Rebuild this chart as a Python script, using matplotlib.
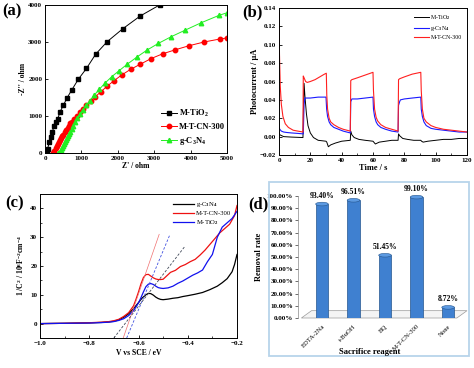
import numpy as np
import matplotlib
matplotlib.use('Agg')
import matplotlib.pyplot as plt
from matplotlib.patches import Rectangle, Polygon, Ellipse
from matplotlib.ticker import MultipleLocator, PercentFormatter

plt.rcParams['font.family'] = ['Liberation Serif', 'DejaVu Serif']
plt.rcParams['mathtext.fontset'] = 'custom'
plt.rcParams['mathtext.rm'] = 'Liberation Serif:bold'
plt.rcParams['mathtext.it'] = 'Liberation Serif:italic:bold'
plt.rcParams['mathtext.bf'] = 'Liberation Serif:bold'
plt.rcParams['xtick.direction'] = 'in'
plt.rcParams['ytick.direction'] = 'in'
plt.rcParams['axes.linewidth'] = 0.7

# ---- (a) Nyquist plot ----
tio2_zr = [0, 18, 46, 73, 119, 156, 202, 248, 300, 349, 413, 505, 606, 743, 917,
           1138, 1394, 1706, 2138, 2615, 3147, 3300]
tio2_zi = [0, 0, 54, 117, 298, 433, 569, 731, 830, 921, 1111, 1291, 1490, 1716, 1995,
           2284, 2673, 3007, 3359, 3702, 4000, 4080]
mtcn_zr = [230, 260, 290, 320, 350, 380, 410, 440, 470, 500, 540, 580, 620, 660, 700,
           740, 800, 870, 950, 1040, 1140, 1250, 1380, 1530, 1700, 1890, 2110, 2350,
           2620, 2910, 3230, 3580, 3960, 4370, 4800, 5000]
mtcn_zi = [0, 60, 130, 190, 250, 300, 350, 400, 450, 500, 560, 620, 680, 740, 800,
           850, 920, 1000, 1100, 1200, 1300, 1400, 1520, 1650, 1800, 1950, 2110, 2260,
           2400, 2550, 2680, 2790, 2900, 3000, 3080, 3110]
gcn_zr = [370, 400, 430, 460, 490, 520, 550, 580, 610, 640, 670, 700, 740, 780, 830,
          890, 960, 1040, 1130, 1230, 1350, 1490, 1650, 1830, 2030, 2260, 2520, 2800,
          3110, 3460, 3850, 4290, 4780, 5000]
gcn_zi = [0, 40, 90, 140, 190, 240, 290, 340, 400, 460, 520, 580, 660, 740, 830,
          940, 1060, 1170, 1290, 1410, 1560, 1720, 1890, 2060, 2220, 2400, 2590, 2780,
          2960, 3140, 3320, 3520, 3720, 3790]

# ---- (b) transient photocurrent ----
red_t = [0, 0.3, 0.8, 1.5, 2.5, 4, 6, 9, 12, 15.3, 15.5, 16, 17, 18, 20, 23, 26, 29,
         30.2, 30.5, 31, 32, 33, 35, 38, 41, 45.5, 45.8, 46.5, 50, 55, 60, 60.3, 61,
         62, 63, 65, 68, 72, 76, 76.3, 77, 80, 85, 90.5, 90.8, 91.5, 92.5, 94, 97, 100,
         105, 110, 115, 120]
red_i = [0.135, 0.09, 0.055, 0.035, 0.022, 0.014, 0.010, 0.007, 0.006, 0.005, 0.066,
         0.064, 0.060, 0.059, 0.060, 0.062, 0.065, 0.068, 0.069, 0.045, 0.030, 0.020,
         0.016, 0.013, 0.010, 0.008, 0.006, 0.061, 0.062, 0.064, 0.067, 0.070, 0.050,
         0.030, 0.021, 0.017, 0.013, 0.010, 0.008, 0.006, 0.062, 0.063, 0.065, 0.068,
         0.070, 0.050, 0.030, 0.020, 0.016, 0.012, 0.010, 0.008, 0.007, 0.006, 0.005]
blue_t = [0, 0.5, 1.5, 3, 5, 8, 12, 15.5, 16, 16.5, 20, 25, 30, 30.4, 31, 32, 33, 35,
          38, 41, 45.5, 45.8, 46.5, 50, 55, 60, 60.3, 61, 62, 63, 65, 68, 72, 76, 76.3,
          77, 77.5, 80, 85, 90.5, 90.8, 91.5, 92.5, 94, 97, 100, 105, 110, 115, 120]
blue_i = [0.010, 0.008, 0.006, 0.005, 0.0045, 0.004, 0.0035, 0.003, 0.035, 0.042, 0.042,
          0.043, 0.043, 0.030, 0.022, 0.016, 0.013, 0.010, 0.008, 0.006, 0.004, 0.038,
          0.041, 0.041, 0.042, 0.043, 0.030, 0.022, 0.016, 0.013, 0.010, 0.008, 0.006,
          0.005, 0.034, 0.038, 0.040, 0.041, 0.042, 0.043, 0.030, 0.022, 0.016, 0.012,
          0.009, 0.008, 0.007, 0.006, 0.005, 0.005]
blk_t = [0, 0.5, 3, 8, 15.3, 15.6, 16, 16.5, 17.5, 18.5, 20, 22, 25, 30, 30.5, 31.5, 33,
         36, 40, 45.5, 45.8, 46.5, 48, 51, 55, 60, 60.5, 61.5, 64, 68, 72, 76, 76.3, 77,
         79, 82, 86, 90.5, 91, 92, 95, 100, 105, 110, 115, 120]
blk_i = [0.005, 0.002, 0.0, -0.0005, -0.001, 0.030, 0.058, 0.045, 0.025, 0.012, 0.004,
         -0.001, -0.004, -0.005, -0.006, -0.011, -0.009, -0.007, -0.005, -0.004, 0.006,
         0.002, -0.001, -0.003, -0.004, -0.005, -0.006, -0.008, -0.006, -0.005, -0.004,
         -0.004, 0.003, 0.001, -0.002, -0.003, -0.004, -0.004, -0.005, -0.006, -0.005,
         -0.004, -0.003, -0.003, -0.002, -0.002]

# ---- (c) Mott-Schottky ----
gcn_v = [-1.0, -0.9, -0.8, -0.75, -0.72, -0.70, -0.68, -0.66, -0.64, -0.62, -0.60,
         -0.585, -0.57, -0.56, -0.55, -0.54, -0.53, -0.52, -0.51, -0.50, -0.48, -0.46,
         -0.44, -0.42, -0.40, -0.37, -0.34, -0.31, -0.28, -0.26, -0.24, -0.22, -0.21, -0.2]
gcn_c = [0.0, 0.1, 0.25, 0.4, 0.6, 0.8, 1.3, 2.2, 3.4, 5.2, 7.3, 8.9, 10.0, 10.5, 10.4,
         9.9, 9.2, 8.7, 8.4, 8.3, 8.5, 8.8, 9.0, 9.4, 9.7, 10.2, 10.8, 11.8, 13.0, 14.2,
         15.6, 18.0, 20.5, 24.0]
mtcn_v = [-1.0, -0.9, -0.8, -0.75, -0.72, -0.70, -0.68, -0.66, -0.64, -0.62, -0.61,
          -0.60, -0.59, -0.58, -0.57, -0.56, -0.55, -0.54, -0.53, -0.52, -0.51, -0.50,
          -0.49, -0.47, -0.45, -0.43, -0.41, -0.39, -0.37, -0.35, -0.33, -0.31, -0.29,
          -0.27, -0.25, -0.23, -0.21, -0.2]
mtcn_c = [0.0, 0.1, 0.3, 0.5, 0.7, 1.0, 1.5, 2.5, 3.8, 6.2, 8.5, 11.0, 13.8, 16.0, 17.0,
          17.1, 16.5, 15.9, 15.5, 15.3, 15.3, 15.4, 16.2, 17.8, 18.5, 19.8, 20.5, 21.5,
          22.3, 23.8, 25.5, 27.5, 29.5, 31.5, 33.0, 34.5, 37.5, 41.0]
tio2_v = [-1.0, -0.9, -0.8, -0.75, -0.72, -0.70, -0.68, -0.66, -0.64, -0.62, -0.61,
          -0.60, -0.59, -0.58, -0.57, -0.56, -0.55, -0.54, -0.53, -0.52, -0.51, -0.50,
          -0.48, -0.46, -0.44, -0.42, -0.40, -0.38, -0.36, -0.34, -0.32, -0.30, -0.28,
          -0.26, -0.24, -0.22, -0.20]
tio2_c = [0.0, 0.1, 0.2, 0.35, 0.5, 0.7, 1.1, 1.7, 2.8, 4.5, 5.8, 7.2, 9.0, 11.0, 12.8,
          13.7, 13.9, 13.6, 13.0, 12.5, 12.3, 12.2, 12.4, 13.0, 14.0, 14.8, 15.8, 16.8,
          17.6, 18.6, 21.5, 24.0, 30.0, 33.5, 35.0, 36.5, 39.0]
# tangent (flat-band) lines: (V0, V1), (y0, y1)
fit_red = ([-0.662, -0.516], [-5, 31])
fit_blue = ([-0.648, -0.472], [-5, 31])
fit_gray = ([-0.700, -0.410], [-5, 27])

# ---- (d) scavenger test ----
reagents = ['EDTA-2Na', 't-BuOH', 'BQ', 'M-T-CN-300', 'None']
removal = [0.9340, 0.9651, 0.5145, 0.9910, 0.0872]
removal_labels = ['93.40%', '96.51%', '51.45%', '99.10%', '8.72%']

W, H = 474, 368
fig = plt.figure(figsize=(W / 100, H / 100), dpi=100)


def box(l, t, r, b):
    return [l / W, 1 - b / H, (r - l) / W, (b - t) / H]


# (a)
ax = fig.add_axes(box(45, 5, 227, 153))
ax.plot(tio2_zr, tio2_zi, '-s', color='black', ms=3, lw=0.7, label='M-TiO$_2$')
ax.plot(mtcn_zr, mtcn_zi, '-o', color='red', ms=3.2, lw=0.7, label='M-T-CN-300')
ax.plot(gcn_zr, gcn_zi, '-^', color='#22ee22', ms=3.2, lw=0.7, label='g-C$_3$N$_4$')
ax.set_xlim(0, 5000)
ax.set_ylim(0, 4000)
ax.xaxis.set_major_locator(MultipleLocator(1000))
ax.yaxis.set_major_locator(MultipleLocator(1000))
ax.tick_params(labelsize=5, length=2, width=0.6, pad=2)
for lb in ax.get_xticklabels() + ax.get_yticklabels():
    lb.set_fontweight('bold')
ax.set_xlabel("Z' / ohm", fontsize=5.5, fontweight='bold', labelpad=1)
ax.set_ylabel("-Z'' / ohm", fontsize=5.5, fontweight='bold', labelpad=1)
ax.legend(loc='lower right', frameon=False, prop={'size': 6, 'weight': 'bold'},
          handlelength=2.0, handletextpad=0.2, labelspacing=0.45,
          bbox_to_anchor=(1.03, -0.01))
fig.text(12 / W, 1 - 11 / H, '(a)', fontsize=12, fontweight='bold', ha='center', va='center')

# (b)
ax = fig.add_axes(box(279, 8, 467, 155))
ax.plot(blk_t, blk_i, color='black', lw=0.7, label='M-TiO$_2$')
ax.plot(blue_t, blue_i, color='#1a1aff', lw=0.8, label='g-C$_3$N$_4$')
ax.plot(red_t, red_i, color='#ff2020', lw=0.8, label='M-T-CN-300')
ax.set_xlim(0, 120)
ax.set_ylim(-0.02, 0.14)
ax.xaxis.set_major_locator(MultipleLocator(20))
ax.xaxis.set_minor_locator(MultipleLocator(10))
ax.yaxis.set_major_locator(MultipleLocator(0.02))
ax.yaxis.set_major_formatter(lambda v, p: f'{v:.2f}'.replace('-', '\u2212'))
ax.tick_params(labelsize=5, length=2, width=0.6, pad=2)
ax.tick_params(which='minor', length=1.2, width=0.5)
for lb in ax.get_xticklabels() + ax.get_yticklabels():
    lb.set_fontweight('bold')
ax.set_xlabel('Time / s', fontsize=6, fontweight='bold', labelpad=1)
ax.set_ylabel('Photocurrent / \u03bcA', fontsize=6, fontweight='bold', labelpad=1)
ax.legend(loc='upper right', frameon=False, prop={'size': 4.2},
          handlelength=2.6, handletextpad=0.2, labelspacing=0.3,
          bbox_to_anchor=(1.0, 1.0))
fig.text(252 / W, 1 - 12 / H, '(b)', fontsize=12, fontweight='bold', ha='center', va='center')

# (c)
ax = fig.add_axes(box(40, 194, 237, 338))
ax.plot(gcn_v, gcn_c, color='black', lw=0.9, label='g-C$_3$N$_4$')
ax.plot(mtcn_v, mtcn_c, color='#ee1111', lw=0.9, label='M-T-CN-300')
ax.plot(tio2_v, tio2_c, color='#1111ee', lw=0.9, label='M-TiO$_2$')
ax.plot(*fit_red, color='#f07070', lw=0.5)
ax.plot(*fit_blue, color='#4050e0', lw=0.6, ls=(0, (3, 2)))
ax.plot(*fit_gray, color='#404858', lw=0.6, ls=(0, (3, 2)))
ax.set_xlim(-1.0, -0.2)
ax.set_ylim(-5, 45)
ax.xaxis.set_major_locator(MultipleLocator(0.2))
ax.xaxis.set_minor_locator(MultipleLocator(0.1))
ax.yaxis.set_major_locator(MultipleLocator(10))
ax.yaxis.set_minor_locator(MultipleLocator(5))
ax.xaxis.set_major_formatter(lambda v, p: f'{v:.1f}'.replace('-', '\u2212'))
ax.tick_params(labelsize=5, length=2, width=0.6, pad=2)
ax.tick_params(which='minor', length=1.2, width=0.5)
for lb in ax.get_xticklabels() + ax.get_yticklabels():
    lb.set_fontweight('bold')
ax.set_xlabel('V vs SCE / eV', fontsize=5.5, fontweight='bold', labelpad=2)
ax.set_ylabel('1 /C$^2$ / 10$^8$F$^{-2}$cm$^{-4}$', fontsize=5.5, fontweight='bold', labelpad=3)
ax.legend(loc='upper right', frameon=False, prop={'size': 4.8},
          handlelength=3.2, handletextpad=0.2, labelspacing=0.25,
          bbox_to_anchor=(1.0, 1.0))
fig.text(15 / W, 1 - 203 / H, '(c)', fontsize=12, fontweight='bold', ha='center', va='center')

# (d)
fig.add_artist(Rectangle((269 / W, 1 - 356 / H), 200 / W, 174 / H, transform=fig.transFigure,
                         fill=False, edgecolor='#b8d4ea', lw=1.3))
ax = fig.add_axes(box(298, 196, 467, 318))
xs = np.arange(len(reagents))
ax.add_patch(Polygon([(0.02, 0), (0.94, 0), (1.0, 0.06), (0.08, 0.06)], closed=True,
                     transform=ax.transAxes, facecolor='#f4f4f4', edgecolor='#9a9a9a',
                     lw=0.5, clip_on=False, zorder=0))
ax.bar(xs, removal, width=0.4, color='#3f80d0', edgecolor='#25568f', lw=0.5, zorder=2)
for x, v, s in zip(xs, removal, removal_labels):
    ax.add_patch(Ellipse((x, v), 0.4, 0.03, facecolor='#5c9ae2', edgecolor='#25568f',
                         lw=0.4, zorder=3, clip_on=False))
    ax.text(x, v + 0.035, s, ha='center', va='bottom', fontsize=5.5, fontweight='bold')
ax.set_xlim(-0.76, 4.6)
ax.set_ylim(0, 1.0)
ax.yaxis.set_major_locator(MultipleLocator(0.1))
ax.yaxis.set_major_formatter(PercentFormatter(1.0, decimals=2))
ax.set_xticks(xs)
ax.set_xticklabels(reagents, rotation=45, ha='right', rotation_mode='anchor', fontsize=4.8)
ax.tick_params(axis='y', direction='out', labelsize=5, length=2, width=0.5, pad=1.5,
               colors='#333333')
ax.tick_params(axis='x', length=0, pad=4)
for lb in ax.get_yticklabels():
    lb.set_fontweight('bold')
    lb.set_color('black')
for sp in ['top', 'right', 'bottom']:
    ax.spines[sp].set_visible(False)
ax.spines['left'].set_color('#8a8a8a')
ax.spines['left'].set_linewidth(0.5)
ax.set_ylabel('Removal rate', fontsize=6, fontweight='bold', labelpad=3)
fig.text(370 / W, 1 - 352 / H, 'Sacrifice reagent', fontsize=6.2, fontweight='bold',
         ha='center', va='center')
fig.text(258 / W, 1 - 204 / H, '(d)', fontsize=12, fontweight='bold', ha='center', va='center')

fig.savefig('out.png', dpi=100, facecolor='white')
